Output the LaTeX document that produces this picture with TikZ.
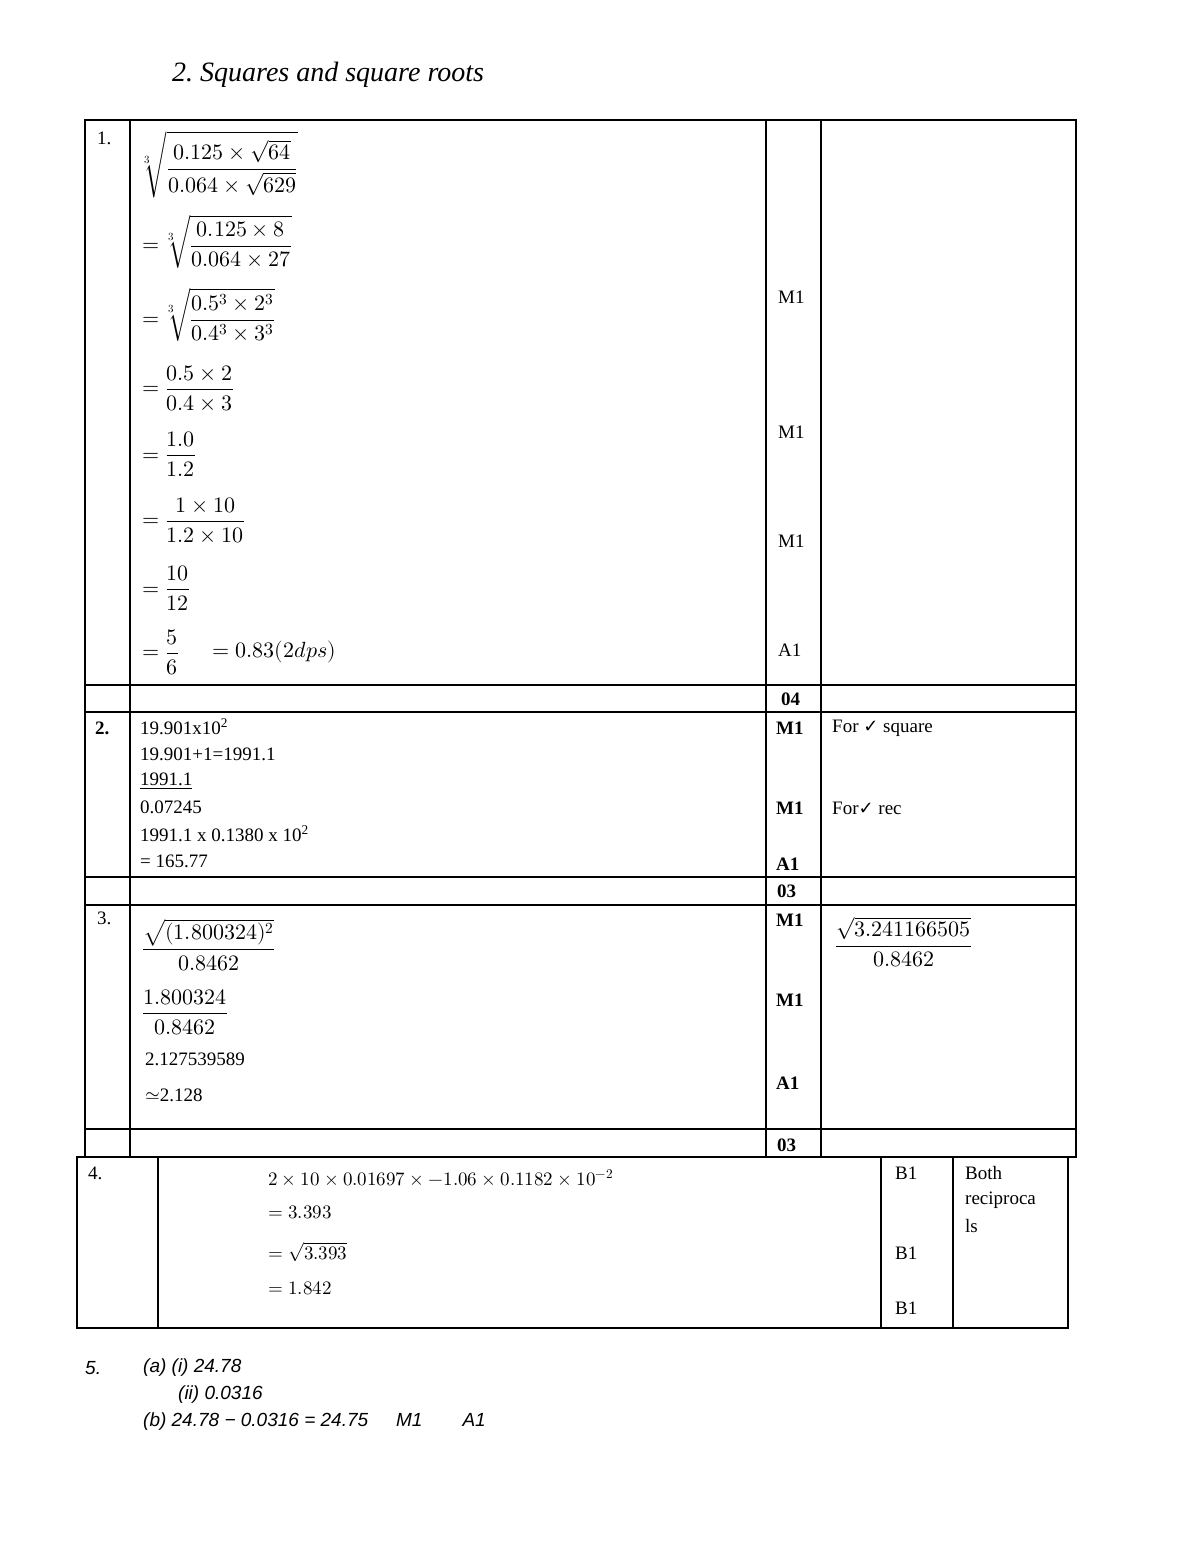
\documentclass[tikz,border=0pt]{standalone}
\usepackage{amsmath}
\usepackage{fontspec}
\usepackage{unicode-math}
\setmainfont{Liberation Serif}
\setmathfont{Latin Modern Math}
\newfontfamily\dejavu{DejaVu Sans}
\newfontfamily\lsans{Liberation Sans}
\newcommand{\tick}{{\dejavu\fontsize{18}{20}\selectfont ✓}}
\begin{document}
\begin{tikzpicture}[x=1pt,y=-1pt,
  txt/.style={anchor=west,inner sep=0pt,font=\fontsize{19}{22}\selectfont},
  mt/.style={anchor=west,inner sep=0pt,font=\fontsize{22}{25}\selectfont},
  bt/.style={txt,font=\fontsize{19}{22}\selectfont\bfseries},
  ss/.style={txt,font=\lsans\itshape\fontsize{19}{22}\selectfont},
  thin/.style={line width=1.2pt},
  thick2/.style={line width=2.4pt}]
\useasboundingbox (0,0) rectangle (1200,1553);
\fill[white] (0,0) rectangle (1200,1553);
\node[txt,font=\fontsize{28}{30}\selectfont\itshape] (title) at (172,75) {2.\ Squares and square roots};
% table 1
\draw[thick2] (85,120) rectangle (1076,1157);
\foreach \x in {130,766,821} \draw[thin] (\x,120) -- (\x,1157);
\foreach \y in {685,877,1129} \draw[thin] (85,\y) -- (1076,\y);
\foreach \y in {712,905} \draw[thick2] (85,\y) -- (1076,\y);
% table 2
\draw[thin] (77,1157) rectangle (1068,1328);
\draw[thin] (158,1157) -- (158,1328);
\draw[thick2] (881,1157) -- (881,1328);
\draw[thin] (953,1157) -- (953,1328);
% Q1
\node[txt] (q1) at (97,138) {1.};
\node[mt] (e1) at (142,165) {$\displaystyle\sqrt[3]{\frac{0.125\times\sqrt{64}}{0.064\times\sqrt{629}}}$};
\node[mt] (e2) at (142,242) {$\displaystyle=\sqrt[3]{\frac{0.125\times8}{0.064\times27}}$};
\node[mt] (e3) at (142,315) {$\displaystyle=\sqrt[3]{\frac{0.5^3\times2^3}{0.4^3\times3^3}}$};
\node[mt] (e4) at (142,388) {$\displaystyle=\frac{0.5\times2}{0.4\times3}$};
\node[mt] (e5) at (142,454) {$\displaystyle=\frac{1.0}{1.2}$};
\node[mt] (e6) at (142,520) {$\displaystyle=\frac{1\times10}{1.2\times10}$};
\node[mt] (e7) at (142,588) {$\displaystyle=\frac{10}{12}$};
\node[mt] (e8) at (142,652) {$\displaystyle=\frac{5}{6}$};
\node[mt] (e8b) at (212,652) {$=0.83(2dps)$};
\node[txt] (m1) at (778,297) {M1};
\node[txt] (m2) at (778,432) {M1};
\node[txt] (m3) at (778,541) {M1};
\node[txt] (a1) at (778,650) {A1};
\node[bt] (t1) at (781,699) {04};
% Q2
\node[bt] (q2) at (95,728) {2.};
\node[txt] (f1) at (140,727) {19.901x10\textsuperscript{2}};
\node[txt] (f2) at (140,754) {19.901+1=1991.1};
\node[txt] (f3) at (140,781) {\underline{1991.1}};
\node[txt] (f4) at (140,807) {0.07245};
\node[txt] (f5) at (140,834) {1991.1 x 0.1380 x 10\textsuperscript{2}};
\node[txt] (f6) at (140,861) {= 165.77};
\node[bt] (m4) at (776,728) {M1};
\node[bt] (m5) at (776,808) {M1};
\node[bt] (a2) at (776,864) {A1};
\node[txt] (c1) at (832,728) {For \tick{} square};
\node[txt] (c2) at (832,808) {For\tick{} rec};
\node[bt] (t2) at (777,891) {03};
% Q3
\node[txt] (q3) at (97,918) {3.};
\node[mt] (g1) at (142,945) {$\displaystyle\frac{\sqrt{(1.800324)^2}}{\;0.8462\;}$};
\node[mt] (g2) at (142,1012) {$\displaystyle\frac{1.800324}{0.8462}$};
\node[txt] (g3) at (145,1059) {2.127539589};
\node[txt] (g4) at (145,1095) {$\simeq$2.128};
\node[bt] (m6) at (776,920) {M1};
\node[bt] (m7) at (776,1000) {M1};
\node[bt] (a3) at (776,1083) {A1};
\node[mt] (h1) at (835,942) {$\displaystyle\frac{\sqrt{3.241166505}}{0.8462}$};
\node[bt] (t3) at (777,1145) {03};
% Q4
\node[txt] (q4) at (88,1173) {4.};
\node[txt] (k1) at (268,1178) {$2\times10\times0.01697\times-1.06\times0.1182\times10^{-2}$};
\node[txt] (k2) at (268,1212) {$=3.393$};
\node[txt] (k3) at (268,1252) {$=\sqrt{3.393}$};
\node[txt] (k4) at (268,1288) {$=1.842$};
\node[txt] (b1) at (895,1173) {B1};
\node[txt] (b2) at (895,1253) {B1};
\node[txt] (b3) at (895,1308) {B1};
\node[txt] (r1) at (965,1173) {Both};
\node[txt] (r2) at (965,1200) {reciproca};
\node[txt] (r3) at (965,1226) {ls};
% Q5
\node[ss] (q5) at (85,1368) {5.};
\node[ss] (p1) at (143,1368) {(a) (i) 24.78};
\node[ss] (p2) at (178,1395) {(ii) 0.0316};
\node[ss] (p3) at (143,1422) {(b) 24.78 − 0.0316 = 24.75\hspace{28pt}M1\hspace{40pt}A1};
\end{tikzpicture}
\end{document}
